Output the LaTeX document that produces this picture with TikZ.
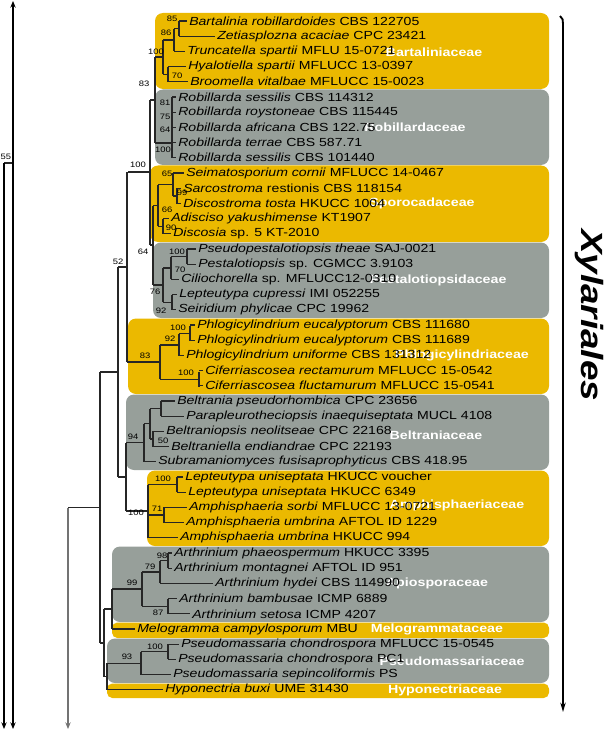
\documentclass[tikz,border=0pt]{standalone}
\usepackage{fontspec}
\setmainfont{Liberation Sans}[FakeStretch=1.2]
\usetikzlibrary{arrows.meta}
\definecolor{fy}{HTML}{EBB900}
\definecolor{fg}{HTML}{979F9A}
\newcommand\lf[5]{\pgfmathsetmacro\yy{21+15.2*#2}\node[leaf] (#1) at (#4,\yy) {#5};\draw[br] (#3,\yy) -- ([xshift=-1.2pt]#1.west);}
\newcommand\bsv[3]{\node[bs] at (#1,#2) {#3};}
\begin{document}
\begin{tikzpicture}[x=0.75pt,y=-0.75pt,
 leaf/.style={anchor=west,inner sep=0pt,font=\fontsize{8.8}{9}\selectfont},
 br/.style={line width=0.8pt,black!85},
 bs/.style={inner sep=0pt,font=\fontsize{5.9}{6}\selectfont},
 famlab/.style={inner sep=0pt,text=white,font=\fontsize{8.9}{9}\selectfont\bfseries},
 arr/.style={line width=1pt,-{Stealth[length=5pt,width=4pt]}}]
\useasboundingbox (0,0) rectangle (605,731);
% boxes
\fill[fy,rounded corners=6pt] (155,13) rectangle (549,89);
\fill[fg,rounded corners=6pt] (155,89.5) rectangle (549,165);
\fill[fy,rounded corners=6pt] (150,165.5) rectangle (549,242);
\fill[fg,rounded corners=6pt] (153,242.5) rectangle (549,318);
\fill[fy,rounded corners=6pt] (128,318.5) rectangle (549,394);
\fill[fg,rounded corners=6pt] (126,394.5) rectangle (549,470);
\fill[fy,rounded corners=6pt] (147,470.5) rectangle (549,546);
\fill[fg,rounded corners=6pt] (112,546.5) rectangle (549,622);
\fill[fy,rounded corners=4pt] (112,622.5) rectangle (549,638);
\fill[fg,rounded corners=6pt] (107,638.5) rectangle (549,683);
\fill[fy,rounded corners=4pt] (107,683.5) rectangle (549,698);
\node[famlab] (f1) at (434,52) {Bartaliniaceae};
\node[famlab] (f2) at (415,127) {Robillardaceae};
\node[famlab] (f3) at (422,203) {Sporocadaceae};
\node[famlab] (f4) at (438,280) {Pestalotiopsidaceae};
\node[famlab] (f5) at (462,355) {Phlogicylindriaceae};
\node[famlab] (f6) at (436,435) {Beltraniaceae};
\node[famlab] (f7) at (457,505) {Amphisphaeriaceae};
\node[famlab] (f8) at (437,583) {Apiosporaceae};
\node[famlab] (f9) at (437,629) {Melogrammataceae};
\node[famlab] (f10) at (452,661) {Pseudomassariaceae};
\node[famlab] (f11) at (445,690) {Hyponectriaceae};
% leaves
\lf{l0}{0}{179}{189}{\textit{Bartalinia robillardoides} CBS 122705}
\lf{l1}{1}{179}{217}{\textit{Zetiasplozna acaciae} CPC 23421}
\lf{l2}{2}{174}{187}{\textit{Truncatella spartii} MFLU 15-0721}
\lf{l3}{3}{168}{188}{\textit{Hyalotiella spartii} MFLUCC 13-0397}
\lf{l4}{4}{168}{190}{\textit{Broomella vitalbae} MFLUCC 15-0023}
\lf{l5}{5}{172}{178}{\textit{Robillarda sessilis} CBS 114312}
\lf{l6}{6}{172}{178}{\textit{Robillarda roystoneae} CBS 115445}
\lf{l7}{7}{172}{178}{\textit{Robillarda africana} CBS 122.75}
\lf{l8}{8}{172}{178}{\textit{Robillarda terrae} CBS 587.71}
\lf{l9}{9}{172}{178}{\textit{Robillarda sessilis} CBS 101440}
\lf{l10}{10}{173}{186}{\textit{Seimatosporium cornii} MFLUCC 14-0467}
\lf{l11}{11}{177}{183}{\textit{Sarcostroma} restionis CBS 118154}
\lf{l12}{12}{177}{183}{\textit{Discostroma tosta} HKUCC 1004}
\lf{l13}{13}{163}{171}{\textit{Adisciso yakushimense} KT1907}
\lf{l14}{14}{163}{173}{\textit{Discosia} sp. 5 KT-2010}
\lf{l15}{15}{187}{198}{\textit{Pseudopestalotiopsis theae} SAJ-0021}
\lf{l16}{16}{187}{198}{\textit{Pestalotiopsis} sp. CGMCC 3.9103}
\lf{l17}{17}{171}{181}{\textit{Ciliochorella} sp. MFLUCC12-0310}
\lf{l18}{18}{172}{179}{\textit{Lepteutypa cupressi} IMI 052255}
\lf{l19}{19}{172}{178}{\textit{Seiridium phylicae} CPC 19962}
\lf{l20}{20}{190}{197}{\textit{Phlogicylindrium eucalyptorum} CBS 111680}
\lf{l21}{21}{190}{197}{\textit{Phlogicylindrium eucalyptorum} CBS 111689}
\lf{l22}{22}{179}{186}{\textit{Phlogicylindrium uniforme} CBS 131312}
\lf{l23}{23}{199}{205}{\textit{Ciferriascosea rectamurum} MFLUCC 15-0542}
\lf{l24}{24}{199}{205}{\textit{Ciferriascosea fluctamurum} MFLUCC 15-0541}
\lf{l25}{25}{161}{177}{\textit{Beltrania pseudorhombica} CPC 23656}
\lf{l26}{26}{161}{186}{\textit{Parapleurotheciopsis inaequiseptata} MUCL 4108}
\lf{l27}{27}{153}{166}{\textit{Beltraniopsis neolitseae} CPC 22168}
\lf{l28}{28}{153}{171}{\textit{Beltraniella endiandrae} CPC 22193}
\lf{l29}{29}{144}{158}{\textit{Subramaniomyces fusisaprophyticus} CBS 418.95}
\lf{l30}{30}{177}{185}{\textit{Lepteutypa uniseptata} HKUCC voucher}
\lf{l31}{31}{177}{188}{\textit{Lepteutypa uniseptata} HKUCC 6349}
\lf{l32}{32}{164}{189}{\textit{Amphisphaeria sorbi} MFLUCC 13-0721}
\lf{l33}{33}{164}{186}{\textit{Amphisphaeria umbrina} AFTOL ID 1229}
\lf{l34}{34}{148}{180}{\textit{Amphisphaeria umbrina} HKUCC 994}
\lf{l35}{35}{168}{174}{\textit{Arthrinium phaeospermum} HKUCC 3395}
\lf{l36}{36}{168}{174}{\textit{Arthrinium montagnei} AFTOL ID 951}
\lf{l37}{37}{160}{215}{\textit{Arthrinium hydei} CBS 114990}
\lf{l38}{38}{168}{179}{\textit{Arthrinium bambusae} ICMP 6889}
\lf{l39}{39}{168}{192}{\textit{Arthrinium setosa} ICMP 4207}
\lf{l40}{40}{112}{137}{\textit{Melogramma campylosporum} MBU}
\lf{l41}{41}{168}{181}{\textit{Pseudomassaria chondrospora} MFLUCC 15-0545}
\lf{l42}{42}{168}{178}{\textit{Pseudomassaria chondrospora} PC1}
\lf{l43}{43}{141}{173}{\textit{Pseudomassaria sepincoliformis} PS}
\lf{l44}{44}{107}{165}{\textit{Hyponectria buxi} UME 31430}
% internal branches
\draw[br] (179,21)--(179,36.2) (174,28.6)--(179,28.6) (174,28.6)--(174,51.4)
 (168,66.6)--(168,81.8) (163,40)--(174,40) (163,74.2)--(168,74.2) (163,40)--(163,74.2)
 (172,97)--(172,157.8) (155,143)--(172,143)
 (155,57)--(163,57) (155,57)--(155,143)
 (150,100)--(155,100) (150,100)--(150,245) (128,172)--(150,172)
 (177,188.4)--(177,203.6) (173,196)--(177,196) (173,173.2)--(173,196)
 (163,218.8)--(163,234) (158,184.6)--(173,184.6) (158,226.4)--(163,226.4) (158,184.6)--(158,226.4)
 (153,205.5)--(158,205.5) (153,205.5)--(153,285) (150,245)--(153,245)
 (187,249)--(187,264.2) (171,256.6)--(187,256.6) (171,256.6)--(171,279.4)
 (172,294.6)--(172,309.8) (163,268)--(171,268) (163,302.2)--(172,302.2) (163,268)--(163,302.2)
 (153,285)--(163,285)
 (190,326)--(190,341.2) (179,333.6)--(190,333.6) (179,333.6)--(179,356.4)
 (199,371.6)--(199,386.8) (160,345)--(179,345) (160,379.2)--(199,379.2) (160,345)--(160,379.2)
 (127,362)--(160,362) (127,172)--(127,362) (118,267)--(127,267)
 (161,401)--(161,416.2) (153,431.4)--(153,446.6) (150,408.6)--(161,408.6) (150,439)--(153,439)
 (150,408.6)--(150,439) (144,423.8)--(150,423.8) (144,423.8)--(144,461.8)
 (177,477)--(177,492.2) (164,507.4)--(164,522.6) (148,484.6)--(177,484.6) (148,515)--(164,515)
 (148,484.6)--(148,537.8)
 (126,442.8)--(144,442.8) (126,511)--(148,511) (126,442.8)--(126,511) (118,477)--(126,477)
 (118,267)--(118,477) (100,372)--(118,372)
 (168,553)--(168,568.2) (160,560.6)--(168,560.6) (160,560.6)--(160,583.4)
 (168,598.6)--(168,613.8) (142,572)--(160,572) (142,606.2)--(168,606.2) (142,572)--(142,606.2)
 (112,589)--(142,589) (112,589)--(112,629)
 (168,644.2)--(168,659.4) (141,651.8)--(168,651.8) (141,651.8)--(141,674.6)
 (107,663.2)--(141,663.2) (107,663.2)--(107,689.8)
 (104,609)--(112,609) (104,676.5)--(107,676.5) (104,609)--(104,676.5) (100,643)--(104,643)
 (100,372)--(100,643) (68,507.5)--(100,507.5)
 (4,163)--(13,163);
% support values
\bsv{172}{19}{85}\bsv{166}{33}{86}\bsv{177}{76}{70}\bsv{156}{52}{100}
\bsv{165}{103}{81}\bsv{165}{117}{75}\bsv{165}{130}{64}\bsv{163}{150}{100}\bsv{144}{84}{83}
\bsv{138}{165}{100}
\bsv{167}{174}{65}\bsv{182}{193}{99}\bsv{167}{210}{66}\bsv{171}{228}{90}\bsv{143}{252}{64}
\bsv{177}{252}{100}\bsv{180}{270}{70}\bsv{155}{292}{76}\bsv{161}{311}{92}
\bsv{178}{328}{100}\bsv{170}{339}{92}\bsv{145}{356}{83}\bsv{186}{373}{100}
\bsv{118}{262}{52}
\bsv{163}{441}{50}\bsv{133}{437}{94}
\bsv{163}{479}{100}\bsv{157}{509}{71}\bsv{136}{513}{100}
\bsv{162}{556}{98}\bsv{150}{567}{79}\bsv{158}{613}{87}\bsv{132}{583}{99}
\bsv{155}{647}{100}\bsv{127}{657}{93}
\bsv{6}{157}{55}
% root arrows
\coordinate (r1) at (68,507.5); \coordinate (r1e) at (68,729);
\coordinate (r2) at (4,163); \coordinate (r2e) at (4,729);
\coordinate (r3s) at (13,1); \coordinate (r3e) at (13,729);
\draw[arr,black!55] (r1) -- (r1e);
\draw[arr] (r2) -- (r2e);
\draw[line width=1pt,{Stealth[length=5pt,width=4pt]}-{Stealth[length=5pt,width=4pt]}] (r3s) -- (r3e);
% Xylariales bracket
\coordinate (xb0) at (560,16); \coordinate (xb1) at (563,712);
\draw[line width=1.4pt,-{Stealth[length=7pt,width=4pt]}] (xb0) to[out=-30,in=90] (563,24) -- (xb1);
\node[rotate=-90,inner sep=0pt,font=\fontsize{23}{24}\selectfont\bfseries\itshape] (xyl) at (589,315) {Xylariales};
\end{tikzpicture}
\end{document}
